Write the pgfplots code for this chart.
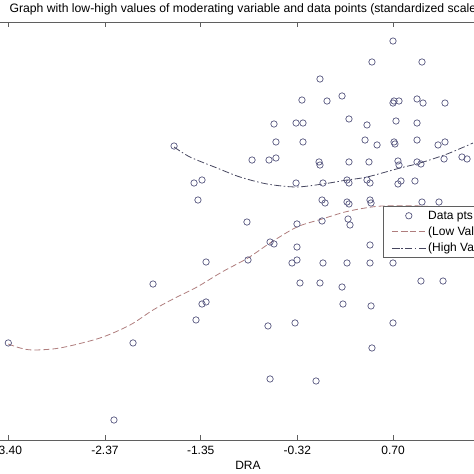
\documentclass[border=0pt]{standalone}
\usepackage{pgfplots}
\pgfplotsset{compat=1.18}
\usepackage{fontspec}
\setmainfont{Liberation Sans}

\definecolor{ptcol}{RGB}{88,88,128}
\definecolor{lowcol}{RGB}{175,125,125}
\definecolor{highcol}{RGB}{70,70,95}
\definecolor{axcol}{RGB}{95,95,95}

\begin{document}
\begin{tikzpicture}
\begin{axis}[
  at={(-10.47pt,34pt)}, anchor=south west,
  scale only axis, width=506.8pt, height=418pt,
  xmin=-3.6, xmax=1.8, ymin=-3, ymax=3,
  axis line style={axcol, line width=0.8pt},
  xtick={-3.40,-2.37,-1.35,-0.32,0.70,1.72},
  xticklabels={-3.40,-2.37,-1.35,-0.32,0.70,1.72},
  ytick=\empty,
  tick align=inside,
  major tick length=5pt,
  tick style={axcol, line width=0.8pt},
  xticklabel style={font=\fontsize{12}{14}\selectfont, anchor=center, yshift=-10pt},
  xlabel={DRA},
  xlabel style={font=\fontsize{12}{14}\selectfont, at={(axis description cs:0.5,0)}, anchor=center, yshift=-25pt, xshift=5pt},
  title={Graph with low-high values of moderating variable and data points (standardized scale)},
  title style={font=\fontsize{12.2}{14}\selectfont, at={(axis description cs:0.5,1)}, anchor=center, yshift=7pt, xshift=2pt},
  legend style={at={(0.7764,0.5598)}, anchor=north west, draw=axcol, line width=0.8pt,
    font=\fontsize{12}{14}\selectfont, fill=white, row sep=2pt, inner xsep=8pt, inner ysep=2.5pt},
  legend cell align=left,
  legend image code/.code={\draw[mark repeat=2,mark phase=2,#1] plot coordinates {(0pt,0pt) (17pt,0pt) (34pt,0pt)};},
]

% Data points
\addplot [only marks, mark=o, mark size=3.2pt, ptcol, mark options={line width=0.7pt}]
coordinates {
(-3.400,-1.607) (-2.274,-2.713) (-2.071,-1.607) (-1.858,-0.761)
(-1.400,-1.277) (-1.336,-1.048) (-1.293,-1.019) (-0.292,-0.746)
(-0.633,-1.363) (-0.345,-1.320) (-0.611,-2.124) (-0.079,-0.746)
(0.156,-0.804) (0.997,-0.718) (1.232,-0.718) (0.166,-1.048)
(0.465,-1.076) (0.699,-1.320) (0.475,-1.679) (-0.121,-2.153)
(-0.803,1.019) (-0.622,1.019) (-0.548,1.048) (-1.421,0.689)
(-1.336,0.732) (-1.379,0.445) (-0.334,0.689) (-0.857,0.129)
(-0.324,0.101) (-0.611,-0.158) (-0.569,-0.186) (-0.324,-0.230)
(-0.377,-0.459) (-0.324,-0.416) (-1.293,-0.445) (-0.846,-0.416)
(-0.271,1.880) (-0.569,1.536) (-0.334,1.550) (-0.260,1.550)
(-0.548,1.278) (-0.260,1.278) (-1.634,1.220)
(0.699,2.727) (0.475,2.426) (1.008,2.426) (-0.079,2.182)
(-0.004,1.866) (0.156,1.938) (0.699,1.837) (0.710,1.866)
(0.763,1.866) (0.955,1.895) (1.019,1.837) (1.253,1.837)
(0.230,1.608) (0.422,1.522) (0.731,1.579) (0.955,1.550)
(0.401,1.306) (0.529,1.235) (0.710,1.278) (0.720,1.249)
(0.955,1.306) (1.179,1.235) (1.253,1.278)
(-0.089,0.991) (-0.079,0.947) (0.230,0.991) (0.443,0.991)
(0.752,1.005) (0.763,0.947) (0.955,0.991) (0.997,0.962)
(1.243,1.034) (1.434,1.062) (1.488,1.034)
(-0.047,0.689) (0.209,0.732) (0.230,0.689) (0.422,0.732)
(0.454,0.689) (0.752,0.675) (0.784,0.718) (0.933,0.718)
(-0.057,0.445) (-0.025,0.402) (0.209,0.416) (0.230,0.388)
(0.454,0.445) (0.465,0.402) (1.008,0.416) (1.189,0.416)
(-0.057,0.144) (0.220,0.172) (0.241,0.086) (0.454,-0.201)
(-0.047,-0.459) (0.209,-0.459) (0.454,-0.459) (0.699,-0.459)
};
\addlegendentry{Data pts}

% Low value of moderator
\addplot [lowcol, line width=0.8pt, dash pattern=on 6pt off 3pt, smooth]
coordinates {
(-3.400,-1.622) (-3.275,-1.679) (-3.137,-1.708) (-2.849,-1.679)
(-2.423,-1.536) (-2.103,-1.349) (-1.858,-1.134) (-1.624,-0.962)
(-1.389,-0.804) (-1.123,-0.588) (-0.846,-0.387) (-0.611,-0.172)
(-0.324,0.058) (-0.057,0.172) (0.188,0.273) (0.401,0.330)
(0.593,0.359) (0.997,0.359) (1.562,0.302)
};
\addlegendentry{(Low Value)}

% High value of moderator
\addplot [highcol, line width=0.8pt, dash pattern=on 7pt off 2.5pt on 1.5pt off 2.5pt, smooth]
coordinates {
(-1.634,1.206) (-1.464,1.062) (-1.176,0.904) (-0.931,0.775)
(-0.643,0.675) (-0.334,0.632) (-0.047,0.675) (0.209,0.732)
(0.422,0.775) (0.774,0.904) (0.987,0.976) (1.275,1.105)
(1.551,1.263)
};
\addlegendentry{(High Value)}

\end{axis}
\pgfresetboundingbox
\useasboundingbox (0,0) rectangle (474pt,474pt);
\end{tikzpicture}
\end{document}
